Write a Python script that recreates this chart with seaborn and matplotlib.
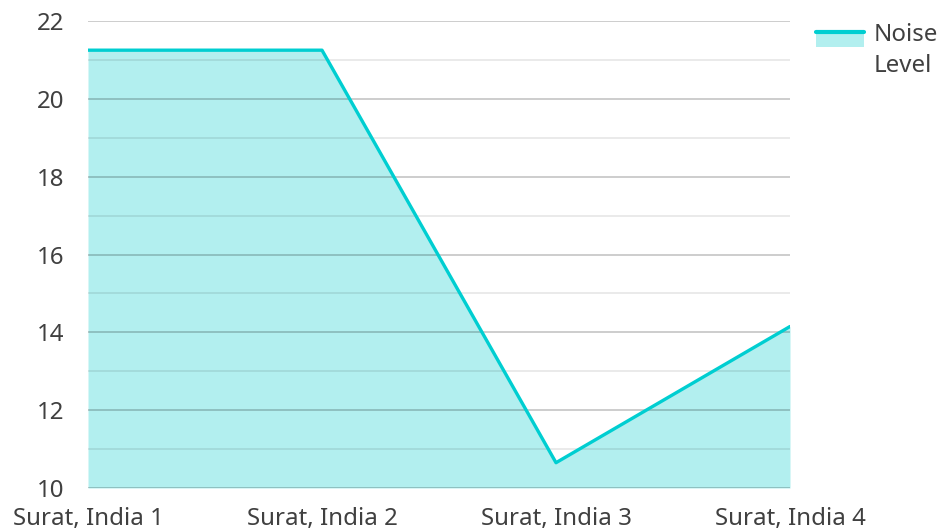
import numpy as np
import pandas as pd
import seaborn as sns

import matplotlib

matplotlib.use("Agg")
import matplotlib.pyplot as plt
from matplotlib.legend_handler import HandlerBase
from matplotlib.patches import Rectangle
from matplotlib.lines import Line2D
from matplotlib.ticker import MultipleLocator

categories = ["Surat, India 1", "Surat, India 2", "Surat, India 3", "Surat, India 4"]
noise_level = [21.25, 21.25, 10.65, 14.15]
y_ticks = [10, 12, 14, 16, 18, 20, 22]

LINE_COLOR = "#00CED1"
FILL_COLOR = "#B2EFEF"
TEXT_COLOR = "#404040"
FONT_SIZE = 17.3


class AreaHandler(HandlerBase):
    """Legend key: filled box with a thick line along its top edge."""

    def create_artists(self, legend, orig_handle, xdescent, ydescent, width, height, fontsize, trans):
        top = -ydescent + height + 8
        rect = Rectangle((-xdescent + 1.5, top - 12), width - 1.5, 12,
                         facecolor=FILL_COLOR, edgecolor="none", transform=trans)
        line = Line2D([-xdescent + 1.5, -xdescent + width], [top - 1.5] * 2,
                      color=LINE_COLOR, linewidth=3, transform=trans)
        return [rect, line]


sns.set_theme(style="white")
plt.rcParams["font.family"] = ["Noto Sans", "DejaVu Sans"]

df = pd.DataFrame({"x": np.arange(len(categories)), "noise": noise_level})

fig = plt.figure(figsize=(9.42, 5.31), dpi=100)
ax = fig.add_axes([88 / 942, 1 - 488 / 531, (790 - 88) / 942, (488 - 21) / 531])

ax.fill_between(df["x"], df["noise"], 10, color=FILL_COLOR, linewidth=0, zorder=1)
sns.lineplot(data=df, x="x", y="noise", ax=ax, color=LINE_COLOR, linewidth=2.4, zorder=3)

ax.set_xlim(0, len(categories) - 1)
ax.set_ylim(10, 22)
ax.set_yticks(y_ticks)
ax.yaxis.set_minor_locator(MultipleLocator(1))
ax.set_xticks(df["x"])
ax.set_xticklabels(categories)
ax.grid(axis="y", which="major", color="black", alpha=0.21, linewidth=1.3, zorder=2)
ax.grid(axis="y", which="minor", color="black", alpha=0.09, linewidth=1.3, zorder=2)
ax.grid(axis="x", visible=False)
ax.set_axisbelow(False)
for spine in ax.spines.values():
    spine.set_visible(False)
ax.tick_params(axis="both", which="both", length=0, labelsize=FONT_SIZE, colors=TEXT_COLOR)
ax.tick_params(axis="y", pad=17)
ax.tick_params(axis="x", pad=14)
ax.set_xlabel("")
ax.set_ylabel("")

handle = Rectangle((0, 0), 1, 1)
leg = fig.legend([handle], ["Noise\nLevel"], handler_map={Rectangle: AreaHandler()},
                 loc="upper left", bbox_to_anchor=(809 / 942, 1 - 18 / 531), frameon=False,
                 fontsize=FONT_SIZE, labelcolor=TEXT_COLOR, handlelength=2.1,
                 handletextpad=0.4, handleheight=0.9, borderpad=0.2, borderaxespad=0)
for text in leg.get_texts():
    text.set_linespacing(1.4)

fig.savefig("out.png", dpi=100)
